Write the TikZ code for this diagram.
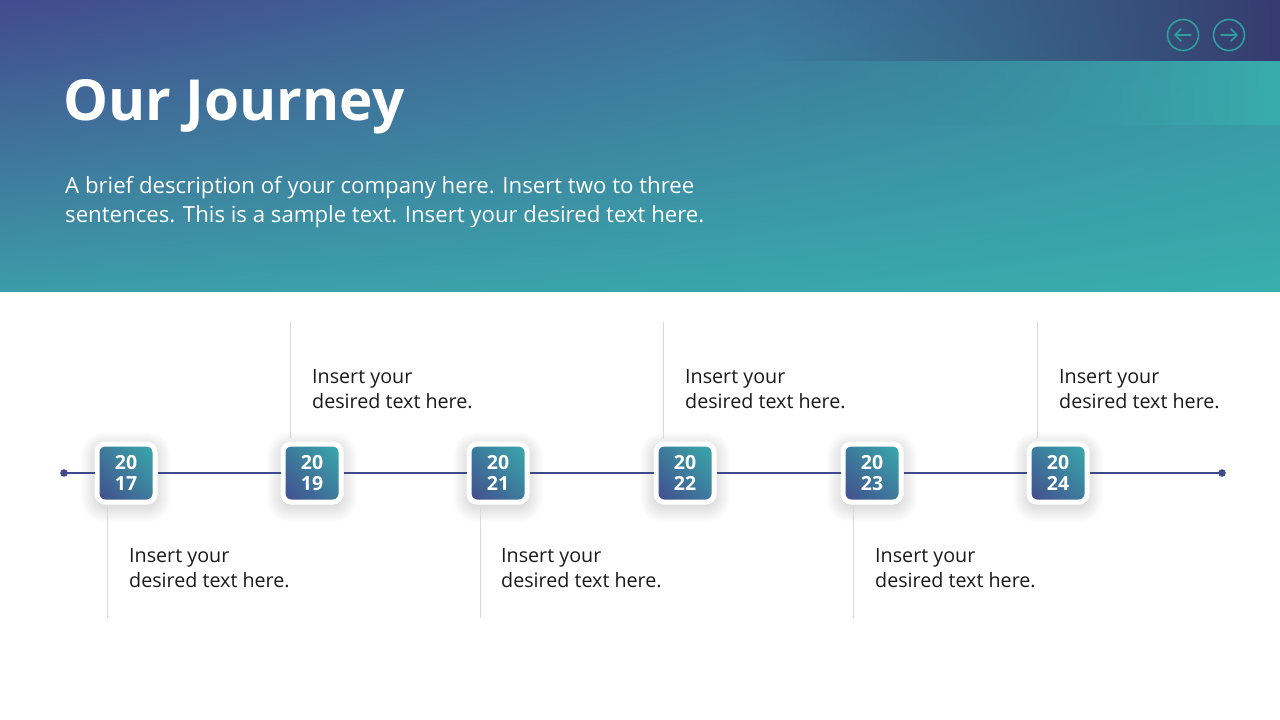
\documentclass[tikz,border=0pt]{standalone}
\usepackage{fontspec}
\setmainfont{Open Sans}
\usetikzlibrary{fadings,shadings}
\definecolor{navy}{HTML}{3E4A8C}
\definecolor{hdUL}{HTML}{434A8E}
\definecolor{hdUR}{HTML}{3A8FA2}
\definecolor{hdLL}{HTML}{3C9CA8}
\definecolor{hdLR}{HTML}{38AEAD}
\definecolor{darknavy}{HTML}{363A6E}
\definecolor{bandL}{HTML}{377E95}
\definecolor{bandM}{HTML}{378896}
\definecolor{bandR}{HTML}{38ADAD}
\definecolor{iconc}{HTML}{2F9E9E}
\definecolor{boxA}{HTML}{434A8D}
\definecolor{boxB}{HTML}{38ACAC}
\definecolor{boxM}{HTML}{3D7B9C}
\definecolor{vgray}{HTML}{D9D9D9}
\definecolor{bodytext}{HTML}{1A1A1A}
\tikzfading[name=fadeR, left color=transparent!100, right color=transparent!0]
\tikzfading[name=fadeBand, left color=transparent!100, middle color=transparent!0, right color=transparent!0]
\tikzset{
  yearbox/.style={shade, lower left=boxA, upper right=boxB, upper left=boxM, lower right=boxM,
    draw=white, line width=5pt, rounded corners=8pt, minimum size=58pt, inner sep=0pt,
    align=center, text=white, font=\bfseries\fontsize{19.5}{21}\selectfont},
  tline/.style={draw=navy, line width=1.1pt},
  vline/.style={draw=vgray, line width=0.8pt},
  dot/.style={fill=navy},
  bodytxt/.style={anchor=west, inner sep=0pt, align=left, text=bodytext, font=\fontsize{19.7}{24.5}\selectfont},
  navicon/.style={draw=iconc, line width=1.6pt},
}
\begin{document}
\begin{tikzpicture}[x=1pt,y=-1pt]
\useasboundingbox (0,0) rectangle (1280,720);
\fill[white] (0,0) rectangle (1280,720);
% header
\shade[upper left=hdUL, upper right=hdUR, lower left=hdLL, lower right=hdLR] (0,0) rectangle (1280,291);
\shade[left color=bandL, middle color=bandM, right color=bandR, path fading=fadeBand] (800,61) rectangle (1280,125);
\fill[darknavy, path fading=fadeR] (760,0) rectangle (1280,61);
% nav icons
\node[navicon, circle, minimum size=31pt, inner sep=0pt] (prev) at (1183,35) {};
\node[navicon, circle, minimum size=31pt, inner sep=0pt] (next) at (1229,35) {};
\draw[navicon, line cap=round, line join=round] (1191,35) -- (1175,35) (1181,29) -- (1175,35) -- (1181,41);
\draw[navicon, line cap=round, line join=round] (1221,35) -- (1237,35) (1231,29) -- (1237,35) -- (1231,41);
% title and description
\node[anchor=base west, inner sep=0pt, text=white, font=\bfseries\fontsize{56.6}{70}\selectfont] (title) at (63,120) {Our Journey};
\node[anchor=west, inner sep=0pt, align=left, text=white, font=\fontsize{22.2}{29}\selectfont] (desc) at (65,202)
  {A brief description of your company here. Insert two to three\\sentences. This is a sample text. Insert your desired text here.};
% shadows
\foreach \x in {126,312,498,685,872,1058}{
  \foreach \s in {1,2,...,16}{
    \fill[black, opacity=0.006, rounded corners={10pt+0.8*\s pt}] ({\x-29-\s},{473-29-\s+4}) rectangle ({\x+29+\s},{473+29+\s+4});
  }
}
% timeline
\coordinate (L) at (64,473);
\coordinate (R) at (1222,473);
\node[yearbox] (y17) at (126,473) {20\\17};
\node[yearbox] (y19) at (312,473) {20\\19};
\node[yearbox] (y21) at (498,473) {20\\21};
\node[yearbox] (y22) at (685,473) {20\\22};
\node[yearbox] (y23) at (872,473) {20\\23};
\node[yearbox] (y24) at (1058,473) {20\\24};
\draw[tline] (L) -- (y17) (y17) -- (y19) (y19) -- (y21) (y21) -- (y22) (y22) -- (y23) (y23) -- (y24) (y24) -- (R);
\fill[dot] (L) circle (3.8pt);
\fill[dot] (R) circle (3.8pt);
% vertical lines
\coordinate (e17) at (107,618);
\coordinate (e19) at (290,322);
\coordinate (e21) at (480,618);
\coordinate (e22) at (663,322);
\coordinate (e23) at (853,618);
\coordinate (e24) at (1037,322);
\draw[vline] ([yshift=-2.6pt]y17.south -| e17) -- (e17);
\draw[vline] ([yshift=2.6pt]y19.north -| e19) -- (e19);
\draw[vline] ([yshift=-2.6pt]y21.south -| e21) -- (e21);
\draw[vline] ([yshift=2.6pt]y22.north -| e22) -- (e22);
\draw[vline] ([yshift=-2.6pt]y23.south -| e23) -- (e23);
\draw[vline] ([yshift=2.6pt]y24.north -| e24) -- (e24);
% texts
\node[bodytxt] (t17) at (129,568) {Insert your\\desired text here.};
\node[bodytxt] (t19) at (312,389) {Insert your\\desired text here.};
\node[bodytxt] (t21) at (501,568) {Insert your\\desired text here.};
\node[bodytxt] (t22) at (685,389) {Insert your\\desired text here.};
\node[bodytxt] (t23) at (875,568) {Insert your\\desired text here.};
\node[bodytxt] (t24) at (1059,389) {Insert your\\desired text here.};
\end{tikzpicture}
\end{document}
